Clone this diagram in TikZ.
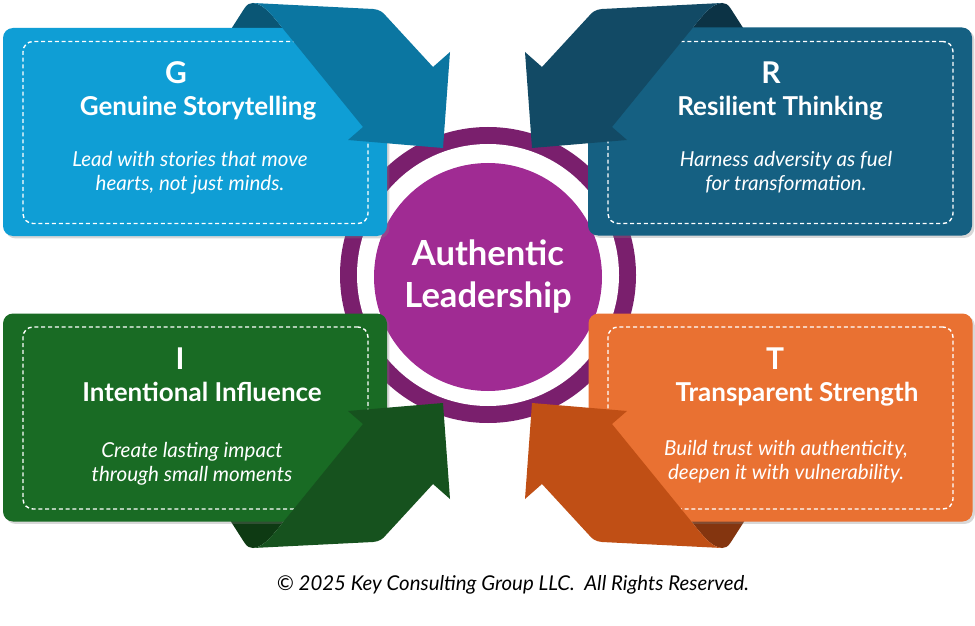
\documentclass[tikz,border=0pt]{standalone}
\usepackage{fontspec}
\setmainfont{Lato}
\usetikzlibrary{shadows}
\definecolor{gbox}{HTML}{0F9ED5}
\definecolor{gribbon}{HTML}{0B76A1}
\definecolor{gfold}{HTML}{0A5675}
\definecolor{rbox}{HTML}{156082}
\definecolor{rribbon}{HTML}{124A65}
\definecolor{rfold}{HTML}{0C3345}
\definecolor{ibox}{HTML}{196B24}
\definecolor{iribbon}{HTML}{16521E}
\definecolor{ifold}{HTML}{0E3A13}
\definecolor{tbox}{HTML}{E97132}
\definecolor{tribbon}{HTML}{C04F15}
\definecolor{tfold}{HTML}{84350F}
\definecolor{ring}{HTML}{7A1F6D}
\definecolor{hub}{HTML}{A02B93}
\tikzstyle{panel} = [rectangle, rounded corners=5pt, minimum width=192pt, minimum height=104pt, draw=none, drop shadow={opacity=0.3, shadow xshift=1.2pt, shadow yshift=-1.2pt}]
\tikzstyle{stitch} = [rectangle, rounded corners=5pt, minimum width=172.5pt, minimum height=91pt, draw=white, line width=0.7pt, dash pattern=on 2pt off 1.4pt]
\tikzstyle{letter} = [text=white, font=\fontsize{15}{18}\selectfont\bfseries]
\tikzstyle{heading} = [text=white, font=\fontsize{13}{15}\selectfont\bfseries]
\tikzstyle{desc} = [text=white, align=center, font=\fontsize{10.3}{12}\selectfont\itshape]
% ribbon pieces, drawn in the top left quadrant
\newcommand{\drawfold}[1]{\fill[#1] (228,34) -- (244,9) .. controls (247,4) and (250,3) .. (253,3) .. controls (262,4) and (268,10) .. (280,25) -- (287,34) -- cycle;}
\newcommand{\drawribbon}[1]{\fill[#1] (253,3) -- (373,9) .. controls (379,9.5) and (383,12) .. (386,16) -- (433,67) -- (450,52) -- (443,148) -- (348,140) -- (363,127) -- (280,25) .. controls (268,10) and (262,4) .. (253,3) -- cycle;}

\begin{document}
\begin{tikzpicture}[x=0.5pt, y=-0.5pt]
\useasboundingbox (0,0) rectangle (975,626);
\fill[white] (0,0) rectangle (975,626);

% centre
\node (outer) [circle, fill=ring, minimum size=148pt, inner sep=0] at (488,275) {};
\node (gap) [circle, fill=white, minimum size=131pt, inner sep=0] at (488,275) {};
\node (hub) [circle, fill=hub, minimum size=114pt, inner sep=0, text=white, align=center, font=\fontsize{17.3}{21}\selectfont\bfseries] at (488,277) {Authentic\\Leadership};

% folds behind the panels
\foreach \dx/\dy/\sx/\sy/\c in {0/0/1/1/gfold, 975/0/-1/1/rfold, 0/551/1/-1/ifold, 975/551/-1/-1/tfold}
{
  \begin{scope}[shift={(\dx,\dy)}, xscale=\sx, yscale=\sy]
    \drawfold{\c}
  \end{scope}
}

% panels
\node (gpanel) [panel, fill=gbox] at (195,132) {};
\node (rpanel) [panel, fill=rbox] at (780,131.5) {};
\node (ipanel) [panel, fill=ibox] at (195,417.5) {};
\node (tpanel) [panel, fill=tbox] at (780.5,417.5) {};
\node (gstitch) [stitch] at (195.5,132.5) {};
\node (rstitch) [stitch] at (780.5,132.5) {};
\node (istitch) [stitch] at (195.5,418) {};
\node (tstitch) [stitch] at (780.5,418) {};

\node (gletter) [letter] at (176,73) {G};
\node (gtitle) [heading] at (198,108) {Genuine Storytelling};
\node (gdesc) [desc] at (190,173) {Lead with stories that move\\hearts, not just minds.};
\node (rletter) [letter] at (771,73) {R};
\node (rtitle) [heading] at (780,108) {Resilient Thinking};
\node (rdesc) [desc] at (786,172) {Harness adversity as fuel\\for transformation.};
\node (iletter) [letter] at (180,359) {I};
\node (ititle) [heading] at (202,392) {Intentional Influence};
\node (idesc) [desc] at (192,463.5) {Create lasting impact\\through small moments};
\node (tletter) [letter] at (775,359) {T};
\node (ttitle) [heading] at (797,394) {Transparent Strength};
\node (tdesc) [desc] at (786,461.5) {Build trust with authenticity,\\deepen it with vulnerability.};

% ribbons over the panels
\foreach \dx/\dy/\sx/\sy/\c in {0/0/1/1/gribbon, 975/0/-1/1/rribbon, 0/551/1/-1/iribbon, 975/551/-1/-1/tribbon}
{
  \begin{scope}[shift={(\dx,\dy)}, xscale=\sx, yscale=\sy]
    \drawribbon{\c}
  \end{scope}
}

\node (copy) [font=\fontsize{10.2}{12}\selectfont\itshape] at (513,585) {© 2025 Key Consulting Group LLC.\ \ All Rights Reserved.};
\end{tikzpicture}
\end{document}
